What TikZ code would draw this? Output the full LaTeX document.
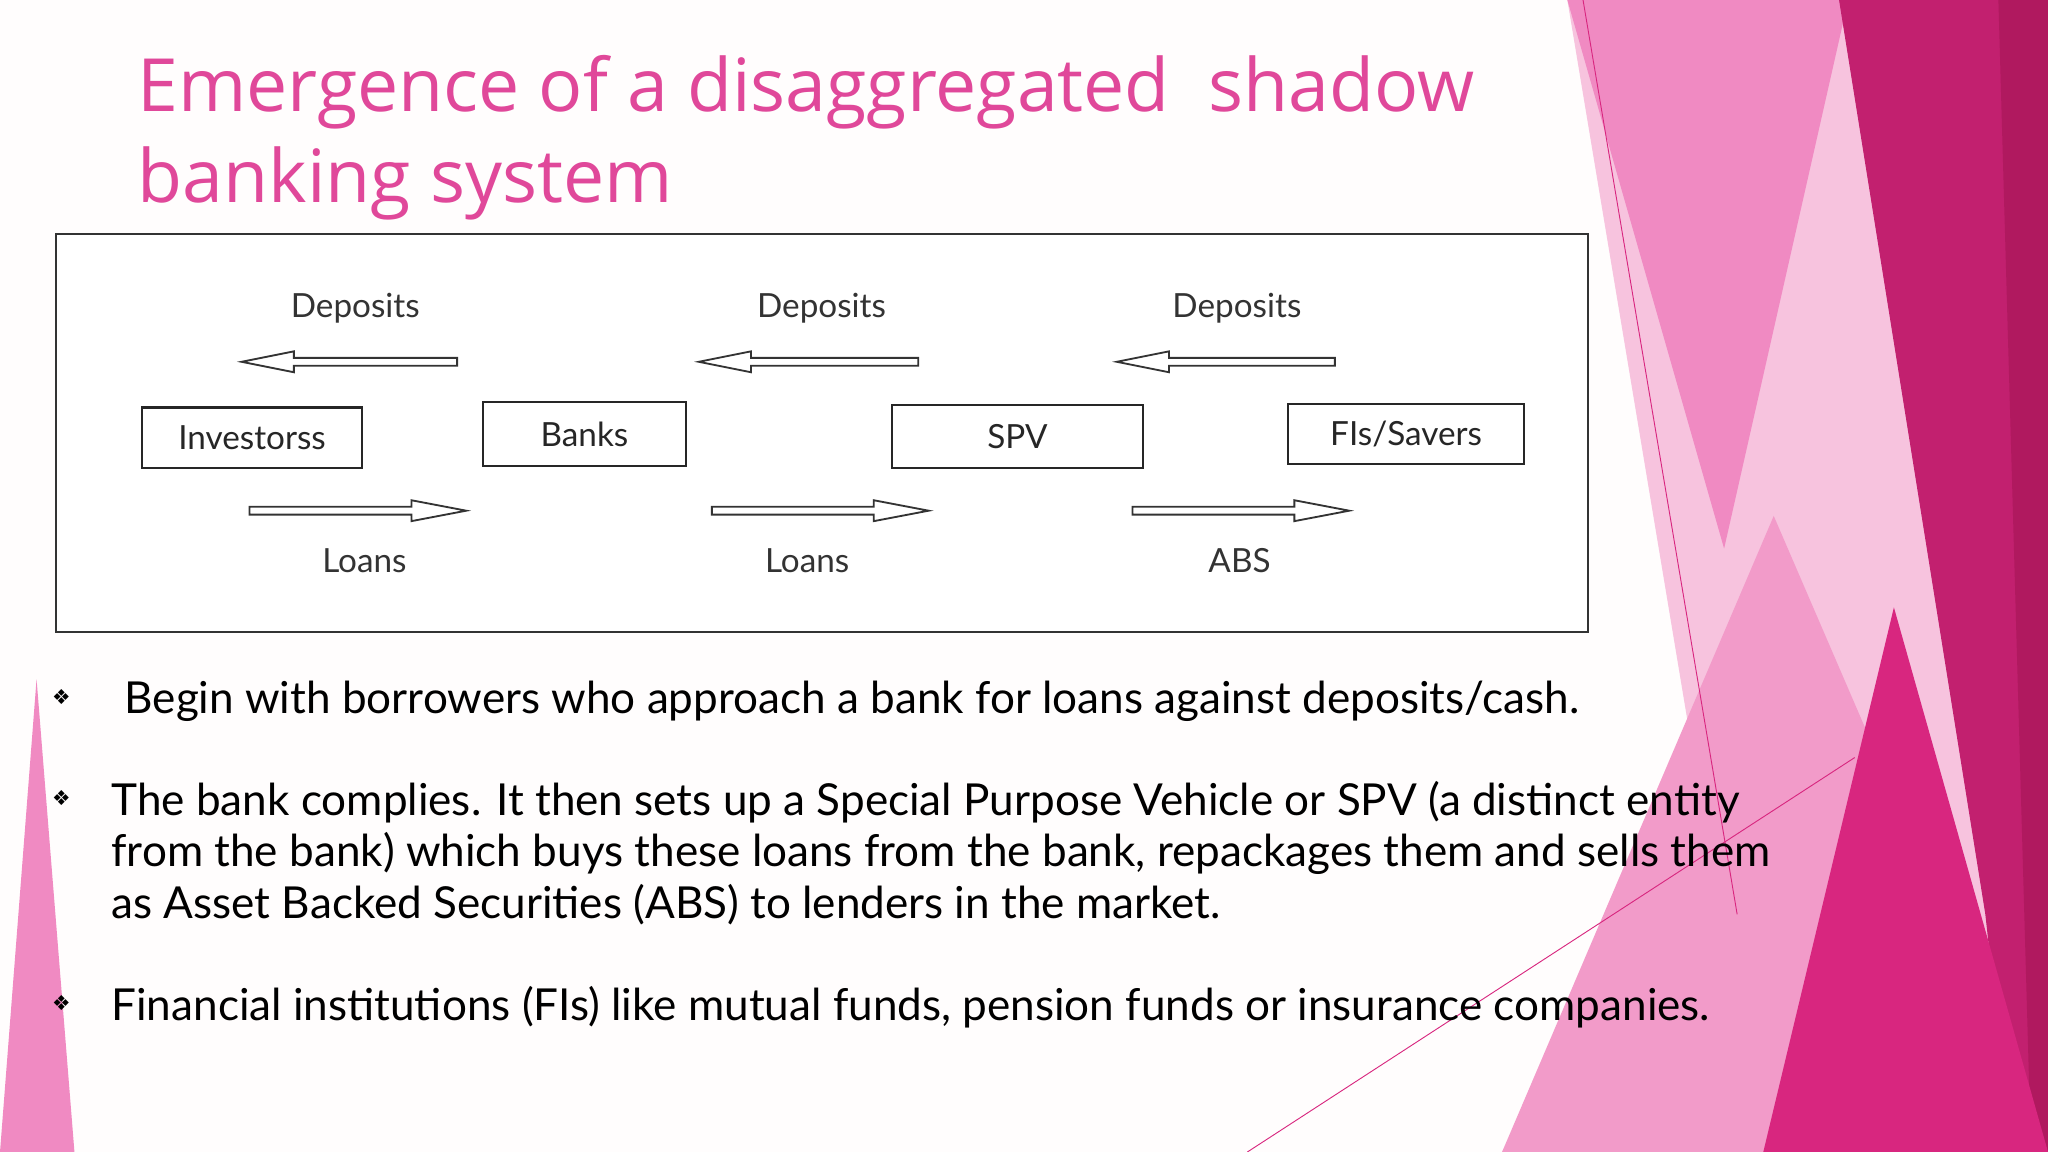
\documentclass[tikz,border=0pt]{standalone}
\usepackage{fontspec}
\setmainfont{Lato}
\newfontfamily\titlefont{Open Sans}
\newfontfamily\symfont{DejaVu Sans}
\definecolor{ttl}{HTML}{E0489A}
\definecolor{pkA}{HTML}{F7C3DE}
\definecolor{pkB}{HTML}{F08AC2}
\definecolor{pkC}{HTML}{C2206F}
\definecolor{pkD}{HTML}{B0195F}
\definecolor{pkE}{HTML}{D8267F}
\definecolor{pkF}{HTML}{F29BC9}
\begin{document}
\begin{tikzpicture}[x={(0.02cm,0)},y={(0,-0.02cm)},
  ent/.style={draw=black!85,line width=0.9pt,font=\fontsize{14.5}{16}\selectfont,inner sep=0pt,text=black!85},
  lab/.style={font=\fontsize{14.5}{16}\selectfont,text=black!80},
  blk/.style={draw=black!80,line width=0.8pt,fill=white},
  body/.style={font=\fontsize{19.2}{22.3}\selectfont,anchor=north west,align=left,inner sep=0pt}]
\fill[white!97!pink] (0,0) rectangle (1568,882);
\useasboundingbox (0,0) rectangle (1568,882);
% background shapes
\fill[pkA] (1200,0) -- (1430,0) -- (1560,800) -- (1500,882) -- (1150,882) -- (1300,600) -- cycle;
\fill[pkB] (1200,0) -- (1415,0) -- (1320,420) -- cycle;
\fill[pkF] (1150,882) -- (1358,395) -- (1568,882) -- cycle;
\fill[pkC] (1408,0) -- (1568,0) -- (1568,882) -- (1540,882) -- (1520,700) -- cycle;
\fill[pkD] (1530,0) -- (1568,0) -- (1568,882) -- (1555,882) -- cycle;
\fill[pkE] (1350,882) -- (1450,465) -- (1568,882) -- cycle;
\fill[pkB] (0,882) -- (28,520) -- (57,882) -- cycle;
\draw[pkE,line width=0.4pt] (1212,0) -- (1330,700);
\draw[pkE,line width=0.4pt] (955,882) -- (1420,580);
% title
\node[anchor=base west,inner sep=0pt,text=ttl,font=\titlefont\fontsize{32}{38}\selectfont] (t1) at (105,85) {Emergence of a disaggregated\ \ shadow};
\node[anchor=base west,inner sep=0pt,text=ttl,font=\titlefont\fontsize{32}{38}\selectfont] (t2) at (105,155) {banking system};
% diagram
\draw[black!80,line width=1pt,fill=white] (43,179) rectangle (1216,484);
\node[ent,minimum width=168*0.02cm,minimum height=46*0.02cm] (inv) at (193,335) {Investorss};
\node[ent,minimum width=155*0.02cm,minimum height=49*0.02cm] (bank) at (447.5,332.5) {Banks};
\node[ent,minimum width=192*0.02cm,minimum height=48*0.02cm] (spv) at (779,334) {SPV};
\node[ent,minimum width=181*0.02cm,minimum height=46*0.02cm] (fis) at (1076.5,332) {FIs/Savers};
\newcommand{\larr}[3]{\draw[blk] (#1,#3-3) -- (#2+40,#3-3) -- (#2+40,#3-8) -- (#2,#3) -- (#2+40,#3+8) -- (#2+40,#3+3) -- (#1,#3+3) -- cycle;}
\larr{350}{185}{277}
\larr{703}{535}{277}
\larr{1022}{855}{277}
\newcommand{\rarr}[3]{\draw[blk] (#1,#3-3) -- (#2-42,#3-3) -- (#2-42,#3-8) -- (#2,#3) -- (#2-42,#3+8) -- (#2-42,#3+3) -- (#1,#3+3) -- cycle;}
\rarr{191}{357}{391}
\rarr{545}{711}{391}
\rarr{867}{1033}{391}
\node[lab] (d1) at (272,236) {Deposits};
\node[lab] (d2) at (629,236) {Deposits};
\node[lab] (d3) at (947,236) {Deposits};
\node[lab] (l1) at (279,429) {Loans};
\node[lab] (l2) at (618,429) {Loans};
\node[lab] (l3) at (949,429) {ABS};
% bullets
\foreach \y/\n in {537/b1,614/b2,771/b3}
  \node[font=\symfont\fontsize{9}{9}\selectfont] (\n) at (47,\y-3) {❖};
\node[body] (p1) at (95,521) {Begin with borrowers who approach a bank for loans against deposits/cash.};
\node[body] (p2) at (85,598) {The bank complies. It then sets up a Special Purpose Vehicle or SPV (a distinct entity\\from the bank) which buys these loans from the bank, repackages them and sells them\\as Asset Backed Securities (ABS) to lenders in the market.};
\node[body] (p3) at (85,755) {Financial institutions (FIs) like mutual funds, pension funds or insurance companies.};
\end{tikzpicture}
\end{document}
